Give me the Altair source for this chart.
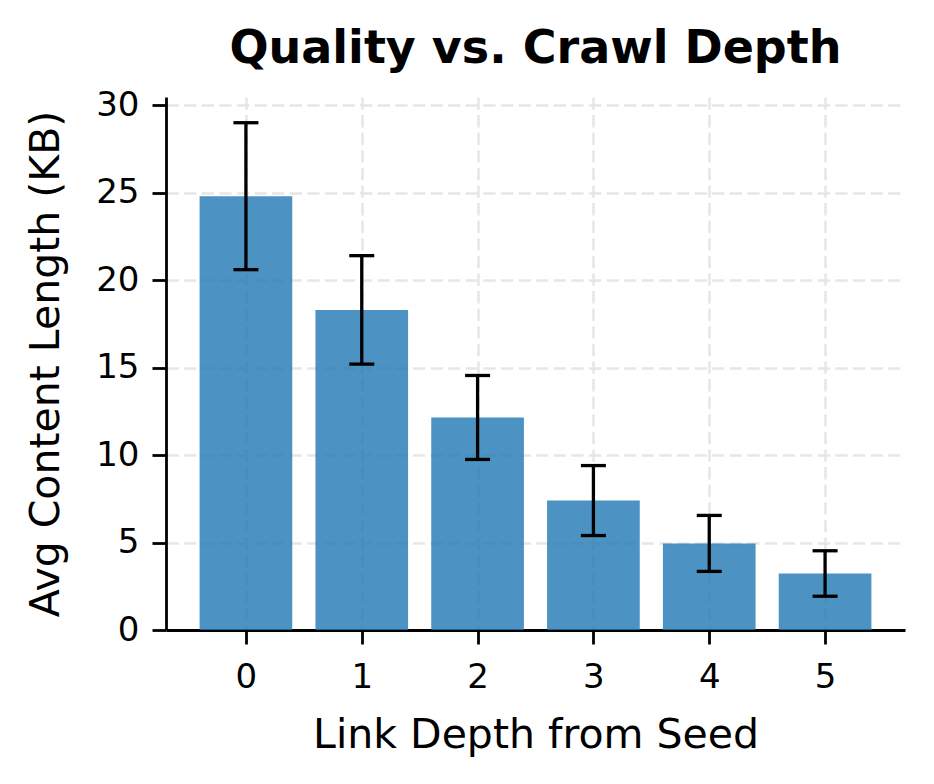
import altair as alt
import pandas as pd

depths = [0, 1, 2, 3, 4, 5]
means = [24.8, 18.3, 12.15, 7.4, 4.95, 3.23]
errs = [4.2, 3.1, 2.4, 2.0, 1.6, 1.3]

df = pd.DataFrame({"depth": depths, "mean": means, "err": errs})

FONT = "DejaVu Sans"
BLUE = "#1f77b4"

xscale = alt.Scale(domain=[-0.69, 5.69], nice=False, zero=False)
yscale = alt.Scale(domain=[0, 30.47], nice=False)

base = alt.Chart(df).transform_calculate(
    x0="datum.depth - 0.4",
    x1="datum.depth + 0.4",
    lo="datum.mean - datum.err",
    hi="datum.mean + datum.err",
)

xaxis = alt.Axis(
    title="Link Depth from Seed",
    values=depths,
    format="d",
    grid=True,
    gridColor="#e6e6e6",
    gridDash=[12.3, 5.3],
    gridWidth=2.5,
    domainColor="black",
    domainWidth=2.8,
    tickColor="black",
    tickWidth=2.8,
    tickSize=14,
    labelFont=FONT,
    labelFontSize=34,
    labelColor="black",
    labelPadding=16,
    titleFont=FONT,
    titleFontSize=41,
    titleFontWeight="normal",
    titleColor="black",
    titlePadding=21,
)

yaxis = alt.Axis(
    title="Avg Content Length (KB)",
    values=[0, 5, 10, 15, 20, 25, 30],
    grid=True,
    gridColor="#e6e6e6",
    gridDash=[12.3, 5.3],
    gridWidth=2.5,
    domainColor="black",
    domainWidth=2.8,
    tickColor="black",
    tickWidth=2.8,
    tickSize=14,
    labelFont=FONT,
    labelFontSize=34,
    labelColor="black",
    labelPadding=13,
    titleFont=FONT,
    titleFontSize=41,
    titleFontWeight="normal",
    titleColor="black",
    titlePadding=28,
)

bars = base.mark_bar(color=BLUE, opacity=0.8).encode(
    x=alt.X("x0:Q", scale=xscale, axis=xaxis),
    x2="x1:Q",
    y=alt.Y("mean:Q", scale=yscale, axis=yaxis),
    y2=alt.Y2(datum=0),
)

stems = base.mark_rule(color="black", strokeWidth=3.3).encode(
    x=alt.X("depth:Q", scale=xscale),
    y=alt.Y("lo:Q", scale=yscale),
    y2="hi:Q",
)

caps_hi = base.mark_tick(color="black", orient="horizontal", size=25, thickness=3.3, opacity=1).encode(
    x=alt.X("depth:Q", scale=xscale),
    y=alt.Y("hi:Q", scale=yscale),
)
caps_lo = base.mark_tick(color="black", orient="horizontal", size=25, thickness=3.3, opacity=1).encode(
    x=alt.X("depth:Q", scale=xscale),
    y=alt.Y("lo:Q", scale=yscale),
)

chart = (
    alt.layer(bars, stems, caps_hi, caps_lo)
    .properties(
        width=739,
        height=533,
        title=alt.TitleParams(
            "Quality vs. Crawl Depth",
            font=FONT,
            fontSize=46,
            fontWeight="bold",
            color="black",
            anchor="middle",
            offset=15,
        ),
        autosize=alt.AutoSizeParams(type="none"),
        padding={"left": 166, "top": 97, "right": 29, "bottom": 154},
        background="white",
    )
    .configure_view(stroke=None)
)

chart.save("out.html", embed_options={"renderer": "svg", "actions": False})
